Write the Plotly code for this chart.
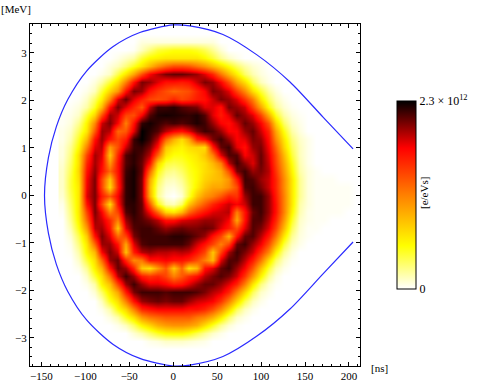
import plotly.graph_objects as go

time_ns = [-126 + 9 * i for i in range(38)]
energy_mev = [round(3.4 - 0.17 * k, 2) for k in range(41)]
density_max = 2.3e12
density_pct = [
[0],
[0,0,0,0,0,0,0,0,0,0,3,3,3,3,3,3,3,3,3,3],
[0,0,0,0,0,0,0,0,0,1,6,12,18,20,22,22,22,20,16,10,4],
[0,0,0,0,0,0,0,2,5,8,18,24,26,28,28,28,28,28,24,18,10,5,2],
[0,0,0,0,0,0,3,6,12,20,28,38,48,55,60,60,58,52,46,38,30,22,14,8,4,2],
[0,0,0,0,0,2,5,16,28,42,60,75,82,88,90,90,88,85,78,68,52,38,26,14,7,3,1],
[0,0,0,0,3,8,18,30,50,72,88,85,78,72,72,70,72,80,88,85,75,60,42,30,15,6,2],
[0,0,0,2,6,18,32,45,72,88,85,72,65,60,55,58,60,68,75,88,85,78,62,48,30,18,8,3],
[0,0,1,5,14,26,48,78,90,78,70,62,60,62,68,62,65,70,72,80,88,85,78,65,50,28,14,6,2],
[0,1,3,8,20,38,72,88,78,68,58,82,94,94,96,92,90,88,78,78,72,88,85,80,62,42,22,10,4,1],
[1,2,5,18,32,60,85,80,62,60,75,92,97,98,97,96,95,97,92,78,70,78,90,85,78,62,40,20,8,3,1],
[1,3,10,25,48,80,88,75,50,72,95,98,95,92,94,92,94,97,94,85,75,72,80,90,85,75,58,32,14,5,2],
[2,5,15,28,58,85,82,55,58,78,100,96,92,82,75,72,78,88,94,92,85,75,75,85,90,80,68,42,22,8,3],
[2,7,20,38,72,85,72,62,70,94,100,94,82,55,40,30,42,68,75,88,94,85,75,78,88,85,72,48,28,12,5,2],
[3,10,24,50,78,82,45,60,80,94,95,88,72,35,28,25,30,32,30,70,90,94,78,72,85,88,75,55,32,15,6,2],
[3,12,30,62,84,78,35,68,92,96,92,82,55,28,22,22,25,28,35,50,78,92,92,75,80,90,78,60,38,18,6,2],
[4,14,30,68,84,75,45,72,92,96,90,72,32,18,16,18,22,26,30,38,50,82,94,86,78,90,80,62,42,22,7,2],
[5,16,32,72,86,72,55,72,94,98,90,55,22,12,10,14,20,24,30,34,40,60,88,94,85,88,82,65,45,25,8,3,1],
[5,18,30,75,88,62,35,70,95,98,88,42,16,7,6,10,18,24,32,36,38,46,70,94,92,85,80,68,48,28,10,3,1,1,1],
[5,18,28,76,88,62,30,68,95,98,88,38,12,4,3,7,16,26,36,42,42,48,60,92,94,88,80,68,48,28,10,3,1,1,1,1,1],
[4,16,28,78,88,70,58,75,95,98,88,40,10,2,0,4,18,35,45,50,58,68,65,85,94,94,85,70,50,28,10,3,1,1,1,1,1],
[2,14,28,72,88,62,30,72,95,96,90,58,22,8,6,14,35,48,58,68,75,80,75,80,94,94,85,72,50,28,8,3,1,1,1,1,1],
[1,12,28,62,88,75,50,62,92,96,90,75,55,32,28,38,55,65,72,78,80,82,50,72,90,94,85,72,50,25,7,2,1,1,1,1],
[0,10,26,55,85,80,68,50,85,94,92,88,82,72,72,78,80,82,85,85,82,75,42,72,92,92,82,68,45,20,5,2,1,1],
[0,7,22,45,82,84,72,35,78,92,94,94,90,85,88,90,88,88,90,88,78,70,60,78,92,88,78,62,38,15,4,1,1],
[0,4,16,34,72,88,78,55,62,88,94,94,94,94,96,96,94,90,85,72,62,40,72,90,92,82,70,52,28,10,3,1],
[0,2,12,28,55,85,85,72,42,78,92,94,94,94,94,94,90,80,72,62,50,62,90,94,85,76,60,40,18,6,2],
[0,1,8,25,38,75,88,80,36,70,82,85,82,82,80,82,80,72,62,35,62,84,94,88,80,65,48,26,10,3],
[0,0,5,18,30,55,85,90,68,48,52,72,72,75,72,72,68,60,50,38,78,92,92,82,70,52,30,14,5,1],
[0,0,2,10,26,40,72,90,85,68,35,30,45,58,35,55,30,38,72,78,90,94,85,75,58,36,18,7,2],
[0,0,0,5,18,30,52,82,94,85,70,65,68,62,50,58,66,72,82,88,92,88,80,65,45,25,10,3],
[0,0,0,2,8,25,36,62,85,94,85,78,78,75,70,72,78,85,90,90,85,78,68,50,28,12,4,1],
[0,0,0,0,4,14,28,42,70,88,94,94,94,92,94,94,94,92,88,82,78,68,50,32,15,5,2],
[0,0,0,0,0,6,20,30,50,72,85,88,90,88,90,90,85,80,78,75,65,50,32,16,6,2],
[0,0,0,0,0,2,8,22,32,50,68,72,75,75,75,75,72,72,68,60,48,32,15,6,2],
[0,0,0,0,0,0,3,8,20,30,45,52,55,58,58,58,58,52,48,40,28,14,5,2],
[0,0,0,0,0,0,0,2,6,14,25,32,40,44,46,46,44,40,30,20,10,4,1],
[0,0,0,0,0,0,0,0,0,4,8,14,20,24,25,25,22,16,10,5,2],
[0,0,0,0,0,0,0,0,0,0,0,2,3,5,5,5,4,3,2],
[0],
[0],
]

boundary_ns = [204.7, 170.5, 132.9, 95.3, 56.6, 19, 0, -38, -68.7, -98.6, -120, -133, -142, -146.5,
               -142, -133, -120, -98.6, -68.7, -38, 0, 19, 56.6, 95.3, 132.9, 170.5, 204.7]
boundary_mev = [0.98, 1.65, 2.39, 2.96, 3.39, 3.57, 3.59, 3.43, 3.13, 2.62, 2.02, 1.45, 0.8, 0,
                -0.8, -1.45, -2.02, -2.62, -3.13, -3.43, -3.59, -3.57, -3.39, -2.96, -2.39, -1.65, -0.98]

z = [[v * density_max / 100 for v in (r + [0] * 38)[:38]] for r in density_pct]
FONT = "Liberation Serif"

fig = go.Figure()
fig.add_trace(go.Heatmap(
    x=time_ns, y=energy_mev, z=z, zmin=0, zmax=density_max, zsmooth="best",
    colorscale=[[0, "#ffffff"], [0.23, "#ffff00"], [0.5, "#ff8000"], [0.75, "#ff0000"], [1, "#000000"]],
    colorbar=dict(
        x=(397 - 30) / 330, xanchor="left", xpad=0, ypad=0,
        y=(366 - 195) / 342, yanchor="middle",
        thickness=19, thicknessmode="pixels", len=188, lenmode="pixels",
        outlinecolor="black", outlinewidth=1,
        tickvals=[0, density_max], ticktext=["0", "2.3\u00a0×\u00a010<sup>12</sup>"],
        ticks="", tickfont=dict(family=FONT, size=12, color="black"),
    ),
    hoverinfo="skip",
))
fig.add_trace(go.Scatter(x=boundary_ns, y=boundary_mev, mode="lines",
                         line=dict(color="#2a2aff", width=1.2, shape="spline", smoothing=0.8),
                         showlegend=False, hoverinfo="skip"))

axis = dict(showgrid=False, zeroline=False, showline=True, linecolor="black", linewidth=1, automargin=False,
            mirror="allticks", ticks="inside", ticklen=4, tickcolor="black", tickwidth=1,
            tickfont=dict(family=FONT, size=11, color="black"))
fig.update_xaxes(range=[-163, 212.6], dtick=50, tick0=0,
                 minor=dict(dtick=10, ticks="inside", ticklen=2, tickcolor="black"), **axis)
fig.update_yaxes(range=[-3.59, 3.61], dtick=1, tick0=0,
                 minor=dict(dtick=0.2, ticks="inside", ticklen=2, tickcolor="black"), **axis)
fig.update_layout(
    width=500, height=386, autosize=False,
    margin=dict(l=30, r=140, t=24, b=20),
    paper_bgcolor="white", plot_bgcolor="white", showlegend=False,
    font=dict(family=FONT, size=11, color="black"),
    annotations=[
        dict(text="[MeV]", xref="paper", yref="paper", x=(33 - 30) / 330, y=(366 - 1) / 342, xanchor="right", yanchor="top", showarrow=False,
             font=dict(family=FONT, size=11)),
        dict(text="[ns]", xref="paper", yref="paper", x=(369 - 30) / 330, y=(366 - 368) / 342, xanchor="left", yanchor="middle", showarrow=False,
             font=dict(family=FONT, size=11)),
        dict(text="[e/eVs]", xref="paper", yref="paper", x=(424 - 30) / 330, y=(366 - 193) / 342, textangle=-90,
             xanchor="center", yanchor="middle", showarrow=False, font=dict(family=FONT, size=11)),
    ],
)
fig.write_html("out.html", config={"displayModeBar": False}, post_script="document.body.style.margin='0';")
